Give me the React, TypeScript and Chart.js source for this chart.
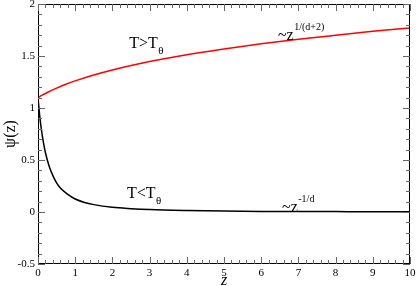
import React, { useEffect, useRef } from "react";
import { Chart, registerables } from "chart.js";

Chart.register(...registerables);

// Data
const zRed = [0, 0.1, 0.25, 0.5, 0.75, 1, 1.5, 2, 2.5, 3, 4, 5, 6, 7, 8, 9, 10];
const psiRed = [1.1, 1.121, 1.149, 1.191, 1.228, 1.261, 1.318, 1.366, 1.409, 1.447, 1.513, 1.568, 1.617, 1.661, 1.7, 1.737, 1.77];
const zBlack = [0, 0.05, 0.1, 0.15, 0.2, 0.3, 0.4, 0.5, 0.6, 0.8, 1, 1.25, 1.5, 2, 2.5, 3, 4, 5, 6, 7, 8, 9, 10];
const psiBlack = [1.1, 0.91, 0.77, 0.66, 0.57, 0.44, 0.35, 0.28, 0.23, 0.17, 0.125, 0.092, 0.071, 0.045, 0.032, 0.023, 0.014, 0.009, 0.006, 0.005, 0.004, 0.003, 0.003];

const xMin = 0, xMax = 10, xStep = 1, xMinor = 0.2;
const yMin = -0.5, yMax = 2, yStep = 0.5, yMinor = 0.1;

// annotation anchors in data units
const noteZ = [2.45, 2.39, 6.45, 6.56];
const notePsi = [1.577, 0.135, 1.654, 0.0];
const noteMain = ["T>T", "T<T", "~z", "~z"];
const noteSub = ["θ", "θ", "", ""];
const noteSup = ["", "", "1/(d+2)", "-1/d"];

const SERIF = "'Liberation Serif', 'Times New Roman', serif";

const framePlugin = {
  id: "frameTicks",
  afterDraw(chart: any) {
    const { ctx, chartArea: a } = chart;
    const xs = chart.scales.x, ys = chart.scales.y;
    ctx.save();
    ctx.lineWidth = 1;
    ctx.strokeStyle = "#000";
    ctx.strokeRect(Math.round(a.left) + 0.5, Math.round(a.top) + 0.5, Math.round(a.right - a.left) - 1, Math.round(a.bottom - a.top) - 1);
    ctx.strokeStyle = "#666";
    ctx.beginPath();
    const nx = Math.round((xMax - xMin) / xMinor);
    for (let i = 0; i <= nx; i++) {
      const v = xMin + i * xMinor;
      const major = Math.abs(v / xStep - Math.round(v / xStep)) < 1e-6;
      const L = major ? 7 : 4;
      const px = Math.round(xs.getPixelForValue(v)) + 0.5;
      ctx.moveTo(px, a.bottom); ctx.lineTo(px, a.bottom - L);
      ctx.moveTo(px, a.top); ctx.lineTo(px, a.top + L);
    }
    const ny = Math.round((yMax - yMin) / yMinor);
    for (let i = 0; i <= ny; i++) {
      const v = yMin + i * yMinor;
      const major = Math.abs(v / yStep - Math.round(v / yStep)) < 1e-6;
      const L = major ? 7 : 4;
      const py = Math.round(ys.getPixelForValue(v)) + 0.5;
      ctx.moveTo(a.left, py); ctx.lineTo(a.left + L, py);
      ctx.moveTo(a.right, py); ctx.lineTo(a.right - L, py);
    }
    ctx.stroke();

    // annotations
    ctx.fillStyle = "#000";
    ctx.textBaseline = "alphabetic";
    ctx.textAlign = "left";
    for (let i = 0; i < noteMain.length; i++) {
      let x = xs.getPixelForValue(noteZ[i]);
      const y = ys.getPixelForValue(notePsi[i]);
      ctx.font = `16px ${SERIF}`;
      ctx.fillText(noteMain[i], x, y);
      x += ctx.measureText(noteMain[i]).width + 0.5;
      if (noteSub[i]) {
        ctx.font = `11px ${SERIF}`;
        ctx.fillText(noteSub[i], x, y + 6);
      }
      if (noteSup[i]) {
        ctx.font = `10px ${SERIF}`;
        ctx.fillText(noteSup[i], x, y - 10);
      }
    }
    ctx.restore();
  },
};

export default function App() {
  const ref = useRef<HTMLCanvasElement | null>(null);
  useEffect(() => {
    document.body.style.margin = "0";
    const canvas = ref.current!;
    const chart = new Chart(canvas, {
      type: "line",
      data: {
        datasets: [
          {
            data: zRed.map((z, i) => ({ x: z, y: psiRed[i] })),
            borderColor: "#ff0000",
            borderWidth: 1.5,
            pointRadius: 0,
            cubicInterpolationMode: "monotone",
          },
          {
            data: zBlack.map((z, i) => ({ x: z, y: psiBlack[i] })),
            borderColor: "#000000",
            borderWidth: 1.5,
            pointRadius: 0,
            cubicInterpolationMode: "monotone",
          },
        ],
      },
      options: {
        animation: false,
        responsive: false,
        plugins: { legend: { display: false }, tooltip: { enabled: false } },
        layout: { padding: { top: 4, right: 6, left: 0, bottom: 0 } },
        scales: {
          x: {
            type: "linear",
            min: xMin,
            max: xMax,
            ticks: {
              stepSize: xStep,
              padding: 3,
              color: "#000",
              font: { family: SERIF, size: 11 },
              maxRotation: 0,
              callback: (v: any) => String(Math.round(Number(v) * 100) / 100),
            },
            grid: { display: false, drawTicks: false },
            border: { display: false },
            title: {
              display: true,
              text: "z",
              color: "#000",
              font: { family: SERIF, size: 16, style: "italic" },
              padding: { top: 0, bottom: -4 },
            },
            afterFit: (s: any) => {
              s.height = 22;
              s.paddingLeft = 0;
              s.paddingRight = 0;
            },
          },
          y: {
            type: "linear",
            min: yMin,
            max: yMax,
            ticks: {
              stepSize: yStep,
              padding: 3,
              color: "#000",
              font: { family: SERIF, size: 11 },
              callback: (v: any) => String(Math.round(Number(v) * 100) / 100),
            },
            grid: { display: false, drawTicks: false },
            border: { display: false },
            title: {
              display: true,
              text: "ψ(z)",
              color: "#000",
              font: { family: SERIF, size: 16 },
              padding: { top: 1, bottom: 0 },
            },
            afterFit: (s: any) => {
              s.width = 38;
              s.paddingTop = 0;
              s.paddingBottom = 0;
            },
          },
        },
      },
      plugins: [framePlugin],
    } as any);
    return () => chart.destroy();
  }, []);
  return (
    <div style={{ position: "absolute", left: 0, top: 0, width: 416, height: 286, background: "#fff" }}>
      <canvas ref={ref} width={416} height={286} style={{ display: "block" }} />
    </div>
  );
}
